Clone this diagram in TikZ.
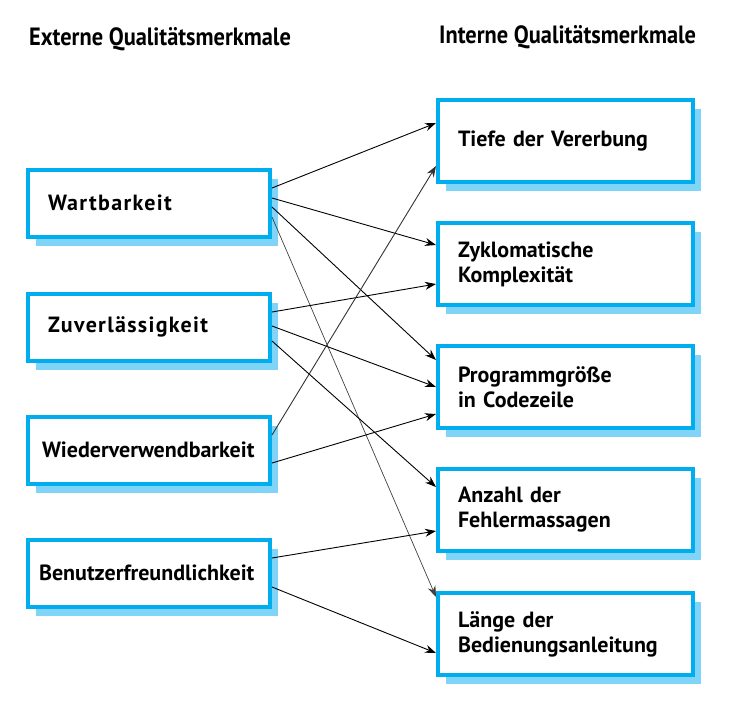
\documentclass[tikz,border=0pt]{standalone}
\usepackage{fontspec}
\setmainfont{PT Sans}
\usepackage{tikz}
\usetikzlibrary{arrows.meta, positioning, shadows}
\definecolor{boxblue}{RGB}{0,174,239}
\definecolor{shadowblue}{RGB}{128,212,247}
\newcommand{\spaced}[1]{{\addfontfeature{LetterSpace=6}#1}}

\begin{document}
\begin{tikzpicture}[x=1pt, y=-1pt,
    font=\fontsize{22}{25}\selectfont\bfseries,
    qbox/.style={rectangle, draw=boxblue, line width=4pt, fill=white,
      inner sep=0pt, align=left,
      drop shadow={shadow xshift=8pt, shadow yshift=-9pt, fill=shadowblue, opacity=1}},
    extbox/.style={qbox, minimum width=242pt, minimum height=67pt, text width=202pt},
    intbox/.style={qbox, minimum width=255pt, minimum height=82pt, text width=215pt},
    title/.style={anchor=base west, inner sep=0pt, font=\fontsize{25}{30}\selectfont\bfseries},
    link/.style={line width=0.9pt, -{Stealth[length=11pt, width=8pt]}},
  ]
  \useasboundingbox (0,0) rectangle (732,724);

  % headings
  \node[title] (exthead) at (29,45) {\scalebox{0.895}[1]{Externe Qualitätsmerkmale}};
  \node[title] (inthead) at (439,43) {\scalebox{0.895}[1]{Interne Qualitätsmerkmale}};

  % external characteristics
  \node[extbox] (wart) at (149,203) {\spaced{Wartbarkeit}};
  \node[extbox] (zuver) at (149,327) {\spaced{Zuverlässigkeit}};
  \node[extbox, text width=214pt] (wieder) at (149,450) {Wiederverwendbarkeit};
  \node[extbox, text width=220pt] (benutz) at (149,573) {Benutzerfreundlichkeit};

  % internal characteristics
  \node[intbox] (tiefe) at (565.5,141) {Tiefe der Vererbung};
  \node[intbox] (zyklo) at (565.5,264) {Zyklomatische\\Komplexität};
  \node[intbox] (progr) at (565.5,387) {Programmgröße\\in Codezeile};
  \node[intbox] (fehler) at (565.5,510) {Anzahl der\\Fehlermassagen};
  \node[intbox] (laenge) at (565.5,634) {Länge der\\Bedienungsanleitung};

  % relations
  \draw[link] ([yshift=15pt]wart.east) -- ([yshift=18pt]tiefe.west);
  \draw[link] ([yshift=5pt]wart.east) -- ([yshift=19pt]zyklo.west);
  \draw[link] ([yshift=-4pt]wart.east) -- ([yshift=27pt]progr.west);
  \draw[link, draw=black!75, line width=0.7pt] ([yshift=-14pt]wart.east) -- ([yshift=37pt]laenge.west);
  \draw[link] ([yshift=15pt]zuver.east) -- ([yshift=-20pt]zyklo.west);
  \draw[link] ([yshift=1pt]zuver.east) -- (progr.west);
  \draw[link] ([yshift=-14pt]zuver.east) -- ([yshift=23pt]fehler.west);
  \draw[link, draw=black!80] ([yshift=15pt]wieder.east) -- ([yshift=-25pt]tiefe.west);
  \draw[link] ([yshift=-13pt]wieder.east) -- ([yshift=-27pt]progr.west);
  \draw[link] ([yshift=15pt]benutz.east) -- ([yshift=-21pt]fehler.west);
  \draw[link] ([yshift=-14pt]benutz.east) -- ([yshift=-19pt]laenge.west);
\end{tikzpicture}
\end{document}
